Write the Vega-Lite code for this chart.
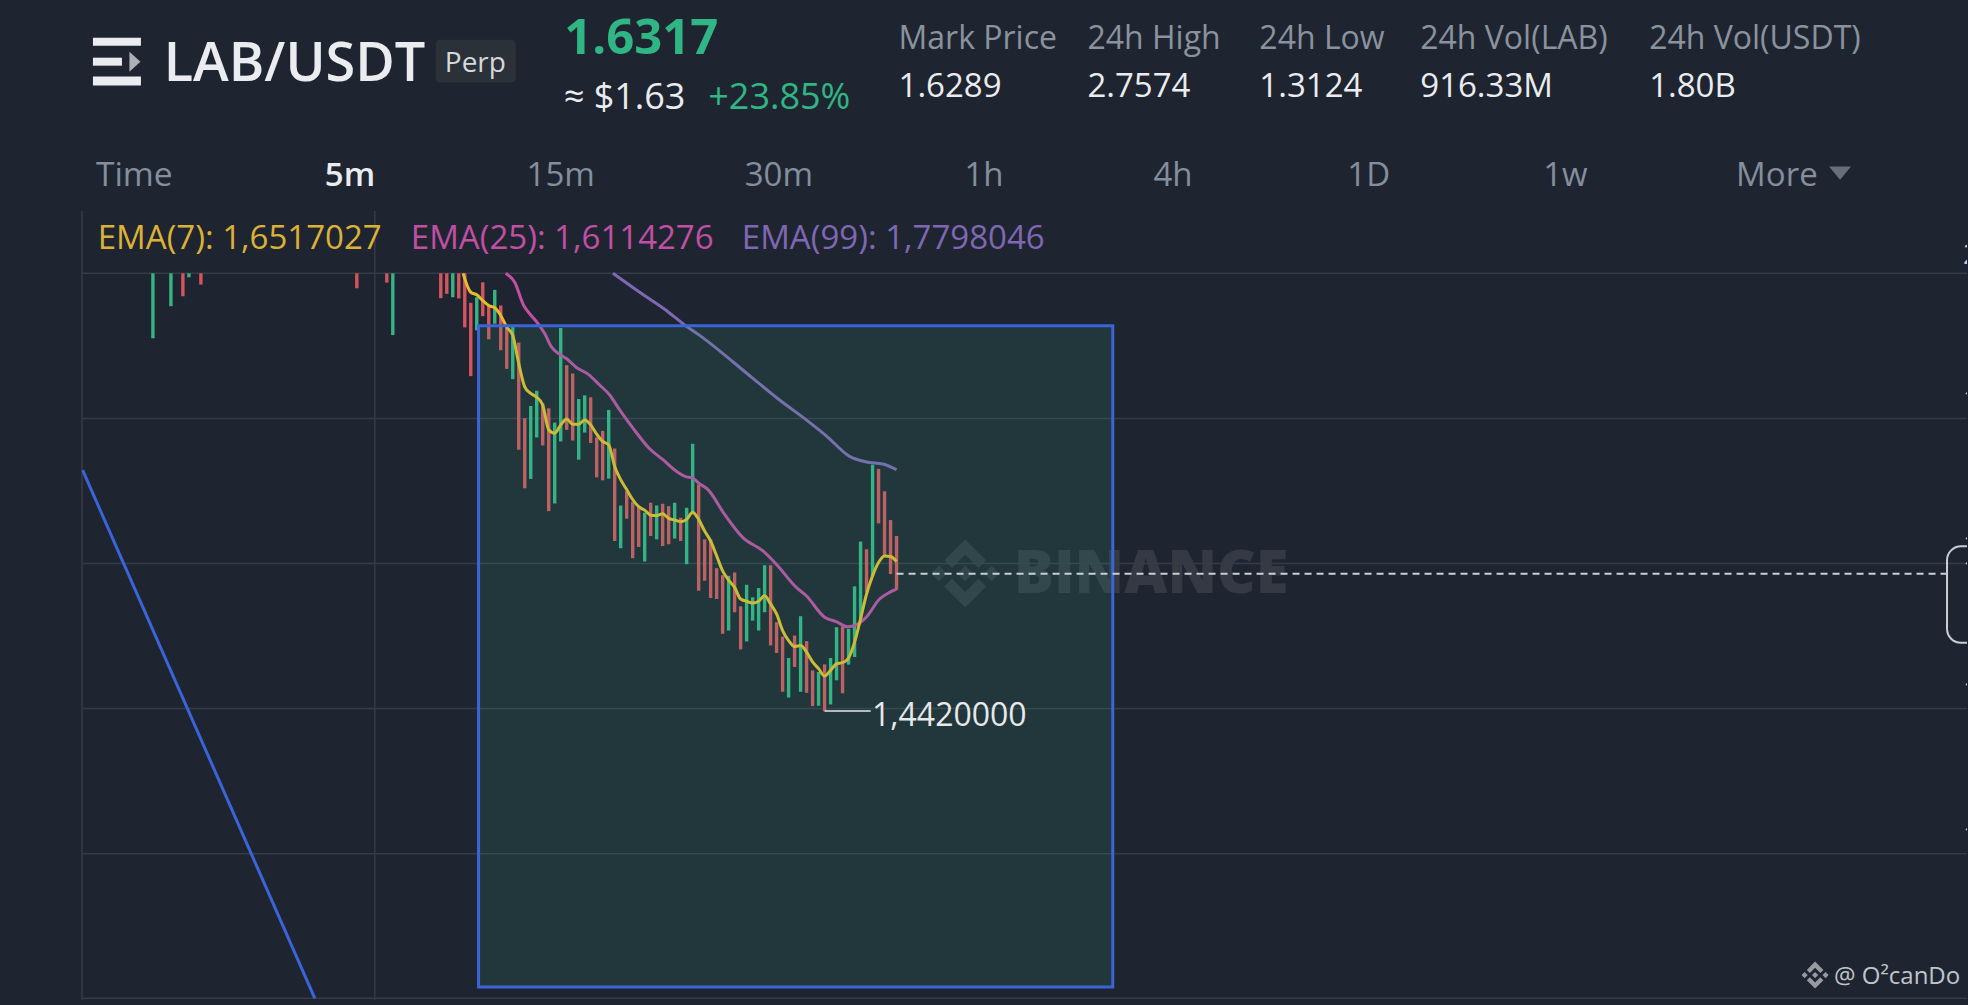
{
"$schema":"https://vega.github.io/schema/vega-lite/v6.json",
"width":1968,"height":1005,"padding":0,
"autosize":{"type":"fit","contains":"padding"},
"background":"#1f2530",
"config":{"view":{"stroke":null},"axis":{"disable":true},"text":{"font":"Open Sans","align":"left","baseline":"alphabetic"}},
"datasets":{
"grid":[{"price":2.0465,"from":-59.83,"to":254.5},{"price":1.846,"from":-59.83,"to":254.5},{"price":1.6459,"from":-59.83,"to":254.5},{"price":1.4458,"from":-59.83,"to":254.5},{"price":1.2454,"from":-59.83,"to":254.5},{"price":1.0456,"from":-59.83,"to":254.5}],
"vgrid":[{"candle":-59.83,"top":2.1326,"bottom":1.0434},{"candle":-11,"top":2.1326,"bottom":1.0434}],
"candles":[
{"candle":-48,"high":2.0465,"low":1.9568,"dir":"up"},{"candle":-45,"high":2.0465,"low":2.0012,"dir":"up"},{"candle":-43,"high":2.0465,"low":2.0149,"dir":"down"},{"candle":-42,"high":2.0465,"low":2.041,"dir":"up"},{"candle":-40,"high":2.0465,"low":2.031,"dir":"down"},{"candle":-14,"high":2.0465,"low":2.0259,"dir":"down"},{"candle":-9,"high":2.0465,"low":2.0337,"dir":"down"},{"candle":-8,"high":2.0465,"low":1.9613,"dir":"up"},
{"candle":0,"high":2.0465,"low":2.0122,"dir":"down"},{"candle":1,"high":2.0465,"low":2.0182,"dir":"down"},{"candle":2,"high":2.0465,"low":2.0135,"dir":"up"},{"candle":3,"high":2.0465,"low":2.0118,"dir":"down"},{"candle":4,"high":2.0465,"low":1.9719,"dir":"down"},
{"candle":5,"high":2.0058,"low":1.9046,"dir":"down"},{"candle":6,"high":2.0135,"low":1.9678,"dir":"up"},{"candle":7,"high":2.0341,"low":1.9874,"dir":"down"},{"candle":8,"high":2.0021,"low":1.9554,"dir":"down"},{"candle":9,"high":2.0237,"low":1.977,"dir":"up"},{"candle":10,"high":2.0021,"low":1.9403,"dir":"down"},{"candle":11,"high":1.9723,"low":1.9146,"dir":"down"},{"candle":12,"high":1.9723,"low":1.9005,"dir":"up"},{"candle":13,"high":1.9509,"low":1.803,"dir":"down"},{"candle":14,"high":1.8465,"low":1.7498,"dir":"down"},{"candle":15,"high":1.8634,"low":1.7627,"dir":"up"},{"candle":16,"high":1.8844,"low":1.8199,"dir":"up"},{"candle":17,"high":1.8671,"low":1.8089,"dir":"down"},{"candle":18,"high":1.8602,"low":1.7182,"dir":"down"},{"candle":19,"high":1.8405,"low":1.7288,"dir":"up"},{"candle":20,"high":1.971,"low":1.8144,"dir":"up"},{"candle":21,"high":1.9197,"low":1.8304,"dir":"down"},{"candle":22,"high":1.9083,"low":1.8157,"dir":"down"},{"candle":23,"high":1.873,"low":1.7892,"dir":"up"},{"candle":24,"high":1.8781,"low":1.8267,"dir":"up"},{"candle":25,"high":1.8754,"low":1.8122,"dir":"down"},{"candle":26,"high":1.8199,"low":1.7649,"dir":"down"},{"candle":27,"high":1.8291,"low":1.7608,"dir":"down"},{"candle":28,"high":1.8579,"low":1.7631,"dir":"up"},{"candle":29,"high":1.8047,"low":1.677,"dir":"down"},{"candle":30,"high":1.726,"low":1.667,"dir":"up"},{"candle":31,"high":1.7457,"low":1.7078,"dir":"down"},{"candle":32,"high":1.7311,"low":1.6532,"dir":"down"},{"candle":33,"high":1.7243,"low":1.6688,"dir":"down"},{"candle":34,"high":1.716,"low":1.6487,"dir":"up"},{"candle":35,"high":1.7298,"low":1.6839,"dir":"down"},{"candle":36,"high":1.726,"low":1.6793,"dir":"up"},{"candle":37,"high":1.7284,"low":1.6701,"dir":"down"},{"candle":38,"high":1.7251,"low":1.6725,"dir":"down"},{"candle":39,"high":1.7298,"low":1.6803,"dir":"up"},{"candle":40,"high":1.7091,"low":1.677,"dir":"down"},{"candle":41,"high":1.7229,"low":1.645,"dir":"up"},{"candle":42,"high":1.8112,"low":1.7137,"dir":"up"},{"candle":43,"high":1.7549,"low":1.6083,"dir":"down"},{"candle":44,"high":1.6793,"low":1.6221,"dir":"down"},{"candle":45,"high":1.6793,"low":1.5983,"dir":"down"},{"candle":46,"high":1.6395,"low":1.5969,"dir":"down"},{"candle":47,"high":1.6299,"low":1.5488,"dir":"down"},{"candle":48,"high":1.6289,"low":1.5534,"dir":"up"},{"candle":49,"high":1.6336,"low":1.5787,"dir":"down"},{"candle":50,"high":1.5869,"low":1.5273,"dir":"down"},{"candle":51,"high":1.6166,"low":1.5383,"dir":"up"},{"candle":52,"high":1.5993,"low":1.5671,"dir":"up"},{"candle":53,"high":1.612,"low":1.5534,"dir":"up"},{"candle":54,"high":1.6436,"low":1.5787,"dir":"up"},{"candle":55,"high":1.6436,"low":1.5328,"dir":"down"},{"candle":56,"high":1.5649,"low":1.5223,"dir":"down"},{"candle":57,"high":1.5451,"low":1.4688,"dir":"down"},{"candle":58,"high":1.5155,"low":1.4609,"dir":"up"},{"candle":59,"high":1.5465,"low":1.5031,"dir":"down"},{"candle":60,"high":1.5732,"low":1.4688,"dir":"up"},{"candle":61,"high":1.5388,"low":1.4674,"dir":"down"},{"candle":62,"high":1.4984,"low":1.449,"dir":"down"},{"candle":63,"high":1.4962,"low":1.4495,"dir":"up"},{"candle":64,"high":1.5067,"low":1.442,"dir":"down"},{"candle":65,"high":1.5155,"low":1.4513,"dir":"up"},{"candle":66,"high":1.558,"low":1.4847,"dir":"up"},{"candle":67,"high":1.5589,"low":1.4668,"dir":"down"},{"candle":68,"high":1.5557,"low":1.5063,"dir":"up"},{"candle":69,"high":1.6144,"low":1.5168,"dir":"up"},{"candle":70,"high":1.6762,"low":1.5694,"dir":"up"},{"candle":71,"high":1.6656,"low":1.6061,"dir":"down"},{"candle":72,"high":1.7824,"low":1.6289,"dir":"up"},{"candle":73,"high":1.7765,"low":1.7013,"dir":"down"},{"candle":74,"high":1.7457,"low":1.6564,"dir":"down"},{"candle":75,"high":1.7059,"low":1.6313,"dir":"down"},{"candle":76,"high":1.6839,"low":1.6097,"dir":"down"}],
"ema7":[{"candle":3.72,"price":2.0465},{"candle":5,"price":2.0204},{"candle":6,"price":2.0168},{"candle":7,"price":2.009},{"candle":8,"price":2.0021},{"candle":9,"price":1.999},{"candle":10,"price":1.9884},{"candle":11,"price":1.9723},{"candle":12,"price":1.9609},{"candle":13,"price":1.9221},{"candle":14,"price":1.8899},{"candle":15,"price":1.8808},{"candle":16,"price":1.8754},{"candle":17,"price":1.8648},{"candle":18,"price":1.8304},{"candle":19,"price":1.8259},{"candle":20,"price":1.8373},{"candle":21,"price":1.8455},{"candle":22,"price":1.8383},{"candle":23,"price":1.8383},{"candle":24,"price":1.8442},{"candle":25,"price":1.8373},{"candle":26,"price":1.8245},{"candle":27,"price":1.8144},{"candle":28,"price":1.8098},{"candle":29,"price":1.78},{"candle":30,"price":1.7618},{"candle":31,"price":1.748},{"candle":32,"price":1.7343},{"candle":33,"price":1.7243},{"candle":34,"price":1.7196},{"candle":35,"price":1.7127},{"candle":36,"price":1.7123},{"candle":37,"price":1.7146},{"candle":38,"price":1.7082},{"candle":39,"price":1.7059},{"candle":40,"price":1.7037},{"candle":41,"price":1.7068},{"candle":42,"price":1.7168},{"candle":43,"price":1.7068},{"candle":44,"price":1.6907},{"candle":45,"price":1.677},{"candle":46,"price":1.6564},{"candle":47,"price":1.6358},{"candle":48,"price":1.623},{"candle":49,"price":1.613},{"candle":50,"price":1.5969},{"candle":51,"price":1.5938},{"candle":52,"price":1.5914},{"candle":53,"price":1.5938},{"candle":54,"price":1.6014},{"candle":55,"price":1.5901},{"candle":56,"price":1.5763},{"candle":57,"price":1.5534},{"candle":58,"price":1.5396},{"candle":59,"price":1.5314},{"candle":60,"price":1.5328},{"candle":61,"price":1.5237},{"candle":62,"price":1.51},{"candle":63,"price":1.5008},{"candle":64,"price":1.4907},{"candle":65,"price":1.4984},{"candle":66,"price":1.5076},{"candle":67,"price":1.509},{"candle":68,"price":1.5155},{"candle":69,"price":1.5374},{"candle":70,"price":1.5694},{"candle":71,"price":1.6038},{"candle":72,"price":1.6289},{"candle":73,"price":1.6473},{"candle":74,"price":1.6564},{"candle":75,"price":1.6556},{"candle":76,"price":1.6487}],
"ema25":[{"candle":10.83,"price":2.0465},{"candle":12.33,"price":2.0341},{"candle":13.83,"price":2.0021},{"candle":14.83,"price":1.9907},{"candle":16.22,"price":1.977},{"candle":17.33,"price":1.9633},{"candle":18.45,"price":1.9449},{"candle":19.83,"price":1.9348},{"candle":20.95,"price":1.9289},{"candle":22.62,"price":1.9166},{"candle":24.55,"price":1.9074},{"candle":26.5,"price":1.8923},{"candle":28.17,"price":1.8785},{"candle":29.83,"price":1.8579},{"candle":32.05,"price":1.8328},{"candle":34.83,"price":1.8043},{"candle":37.05,"price":1.7892},{"candle":39.28,"price":1.7732},{"candle":40.95,"price":1.7655},{"candle":41.83,"price":1.7645},{"candle":43.17,"price":1.7559},{"candle":44.55,"price":1.748},{"candle":47.33,"price":1.7137},{"candle":50.38,"price":1.6817},{"candle":53.72,"price":1.6633},{"candle":55.95,"price":1.645},{"candle":59.28,"price":1.613},{"candle":60.95,"price":1.6014},{"candle":64,"price":1.5718},{"candle":65.95,"price":1.5657},{"candle":67.88,"price":1.5585},{"candle":69.28,"price":1.5612},{"candle":70.95,"price":1.5718},{"candle":73.17,"price":1.5969},{"candle":74.83,"price":1.6061},{"candle":76,"price":1.6106}],
"ema99":[{"candle":28.72,"price":2.0465},{"candle":33.17,"price":2.0204},{"candle":37.62,"price":1.9953},{"candle":40.38,"price":1.977},{"candle":43.17,"price":1.9609},{"candle":52,"price":1.9019},{"candle":56.5,"price":1.8716},{"candle":60.95,"price":1.8442},{"candle":64.28,"price":1.8222},{"candle":68.17,"price":1.7938},{"candle":70.95,"price":1.7861},{"candle":73.72,"price":1.7833},{"candle":76,"price":1.7755}],
"zone":[{"left":6.3,"right":112.05,"upper":1.9743,"lower":1.0612}],
"trend":[{"candle":-59.72,"price":1.7747},{"candle":-21,"price":1.0456}],
"last":[{"price":1.6317,"from":76,"to":251.17}],
"lowMark":[{"price":1.4424,"from":64,"to":71.7}],
"lowLabel":[{"candle":71.9,"price":1.4361,"label":"1,4420000"}],
"priceAxis":[{"candle":253.83,"price":2.0708,"label":"2.0500"},{"candle":253.83,"price":1.8703,"label":"1.8500"},{"candle":253.83,"price":1.6697,"label":"1.6500"},{"candle":253.83,"price":1.6354,"label":"1.6317"},{"candle":253.83,"price":1.4692,"label":"1.4500"},{"candle":253.83,"price":1.2686,"label":"1.2500"}],
"one":[{}]
},
"layer":[
{"data":{"name":"one"},"mark":{"type":"point","filled":true,"color":"#ffffff","opacity":0.09,"size":4624,"strokeWidth":0,"shape":"M-.388,-.159L0,-.547L.389,-.159L.615,-.385L0,-1L-.614,-.385ZM-1,0L-.774,-.226L-.548,0L-.774,.226ZM-.388,.159L0,.547L.389,.159L.615,.385L0,1L-.614,.385ZM.548,0L.774,-.226L1,0L.774,.226ZM.229,0L0,-.229L-.229,0L0,.229Z"},"encoding":{"x":{"datum":87.45},"y":{"datum":1.6322}}},
{"data":{"values":[{"label":"BINANCE"}]},"mark":{"type":"text","fontSize":59.5,"fontWeight":800,"color":"#ffffff","opacity":0.09},"encoding":{"x":{"datum":95.55},"y":{"datum":1.6052},"text":{"field":"label"}}},
{
"encoding":{
"x":{"field":"candle","type":"quantitative","scale":{"domain":[-73.5,254.5],"nice":false,"zero":false}},
"y":{"field":"price","type":"quantitative","scale":{"domain":[1.04335,2.42385],"nice":false,"zero":false}}
},
"layer":[
{"data":{"name":"grid"},"mark":{"type":"rule","color":"#353c47","strokeWidth":1.5},"encoding":{"x":{"field":"from","type":"quantitative"},"x2":{"field":"to"},"y":{"field":"price","type":"quantitative"}}},
{"data":{"name":"vgrid"},"mark":{"type":"rule","color":"#353c47","strokeWidth":1.5},"encoding":{"y":{"field":"top","type":"quantitative"},"y2":{"field":"bottom"}}},
{"data":{"name":"candles"},"mark":{"type":"rule","strokeWidth":3.4},"encoding":{"y":{"field":"high","type":"quantitative"},"y2":{"field":"low"},"color":{"field":"dir","type":"nominal","legend":null,"scale":{"domain":["up","down"],"range":["#35b585","#d2555f"]}}}},
{"data":{"name":"ema25"},"mark":{"type":"line","color":"#c04fa5","strokeWidth":3,"interpolate":"monotone"}},
{"data":{"name":"ema99"},"mark":{"type":"line","color":"#7f68b3","strokeWidth":3,"interpolate":"monotone"}},
{"data":{"name":"ema7"},"mark":{"type":"line","color":"#e3bd2c","strokeWidth":3,"interpolate":"monotone"}},
{"data":{"name":"zone"},"mark":{"type":"rect","fill":"#2fb589","fillOpacity":0.13,"stroke":"#3a64d8","strokeOpacity":1,"strokeWidth":3},"encoding":{"x":{"field":"left","type":"quantitative"},"x2":{"field":"right"},"y":{"field":"upper","type":"quantitative"},"y2":{"field":"lower"}}},
{"data":{"name":"trend"},"mark":{"type":"line","color":"#3a64d8","strokeWidth":3}},
{"data":{"name":"last"},"mark":{"type":"rule","color":"#c8ced4","strokeWidth":2,"strokeDash":[7,5]},"encoding":{"x":{"field":"from","type":"quantitative"},"x2":{"field":"to"},"y":{"field":"price","type":"quantitative"}}},
{"data":{"name":"lowMark"},"mark":{"type":"rule","color":"#e6e8ea","strokeWidth":1.5},"encoding":{"x":{"field":"from","type":"quantitative"},"x2":{"field":"to"},"y":{"field":"price","type":"quantitative"}}},
{"data":{"name":"lowLabel"},"mark":{"type":"text","fontSize":32,"color":"#e6e8ea","baseline":"middle"},"encoding":{"text":{"field":"label"}}},
{"data":{"name":"priceAxis"},"mark":{"type":"text","fontSize":28,"color":"#c8ccd2","baseline":"middle","clip":true},"encoding":{"text":{"field":"label"}}}
]
},
{"data":{"name":"one"},"mark":{"type":"rect","stroke":"#c8ced4","fillOpacity":0,"strokeWidth":2,"cornerRadius":14,"clip":true},"encoding":{"x":{"datum":251.17},"x2":{"datum":262},"y":{"datum":1.6697},"y2":{"datum":1.5365}}},

{"data":{"name":"one"},"mark":{"type":"rect","color":"#eaecef"},"encoding":{"x":{"datum":-58},"x2":{"datum":-50},"y":{"datum":2.3716},"y2":{"datum":2.3607}}},
{"data":{"name":"one"},"mark":{"type":"rect","color":"#eaecef"},"encoding":{"x":{"datum":-58},"x2":{"datum":-53.17},"y":{"datum":2.3442},"y2":{"datum":2.3332}}},
{"data":{"name":"one"},"mark":{"type":"rect","color":"#eaecef"},"encoding":{"x":{"datum":-58},"x2":{"datum":-50},"y":{"datum":2.3181},"y2":{"datum":2.3057}}},
{"data":{"name":"one"},"mark":{"type":"point","filled":true,"color":"#eaecef","size":400,"strokeWidth":0,"shape":"M-.55,-1L.55,0L-.55,1Z"},"encoding":{"x":{"datum":-51},"y":{"datum":2.3387}}},
{"data":{"values":[{"label":"LAB/USDT"}]},"mark":{"type":"text","fontSize":54,"fontWeight":600,"color":"#eaecef"},"encoding":{"x":{"datum":-46.2},"y":{"datum":2.3126},"text":{"field":"label"}}},
{"data":{"name":"one"},"mark":{"type":"rect","color":"#2b3139","cornerRadius":4},"encoding":{"x":{"datum":-0.83},"x2":{"datum":12.5},"y":{"datum":2.3689},"y2":{"datum":2.3098}}},
{"data":{"values":[{"label":"Perp"}]},"mark":{"type":"text","fontSize":28,"color":"#d5d8dc"},"encoding":{"x":{"datum":0.67},"y":{"datum":2.3249},"text":{"field":"label"}}},
{"data":{"values":[{"label":"1.6317"}]},"mark":{"type":"text","fontSize":49,"fontWeight":700,"color":"#30b584"},"encoding":{"x":{"datum":20.6},"y":{"datum":2.3497},"text":{"field":"label"}}},
{"data":{"values":[{"label":"≈ $1.63"}]},"mark":{"type":"text","fontSize":36,"fontWeight":500,"color":"#eaecef"},"encoding":{"x":{"datum":20.5},"y":{"datum":2.2727},"text":{"field":"label"}}},
{"data":{"values":[{"label":"+23.85%"}]},"mark":{"type":"text","fontSize":36,"color":"#30b584"},"encoding":{"x":{"datum":44.6},"y":{"datum":2.2727},"text":{"field":"label"}}},

{"data":{"values":[{"label":"Mark Price"}]},"mark":{"type":"text","fontSize":32,"color":"#8a929e"},"encoding":{"x":{"datum":76.33},"y":{"datum":2.3556},"text":{"field":"label"}}},
{"data":{"values":[{"label":"24h High"}]},"mark":{"type":"text","fontSize":32,"color":"#8a929e"},"encoding":{"x":{"datum":107.83},"y":{"datum":2.3556},"text":{"field":"label"}}},
{"data":{"values":[{"label":"24h Low"}]},"mark":{"type":"text","fontSize":32,"color":"#8a929e"},"encoding":{"x":{"datum":136.5},"y":{"datum":2.3556},"text":{"field":"label"}}},
{"data":{"values":[{"label":"24h Vol(LAB)"}]},"mark":{"type":"text","fontSize":32,"color":"#8a929e"},"encoding":{"x":{"datum":163.33},"y":{"datum":2.3556},"text":{"field":"label"}}},
{"data":{"values":[{"label":"24h Vol(USDT)"}]},"mark":{"type":"text","fontSize":32,"color":"#8a929e"},"encoding":{"x":{"datum":201.5},"y":{"datum":2.3556},"text":{"field":"label"}}},
{"data":{"values":[{"label":"1.6289"}]},"mark":{"type":"text","fontSize":33,"fontWeight":500,"color":"#eaecef"},"encoding":{"x":{"datum":76.33},"y":{"datum":2.2906},"text":{"field":"label"}}},
{"data":{"values":[{"label":"2.7574"}]},"mark":{"type":"text","fontSize":33,"fontWeight":500,"color":"#eaecef"},"encoding":{"x":{"datum":107.83},"y":{"datum":2.2906},"text":{"field":"label"}}},
{"data":{"values":[{"label":"1.3124"}]},"mark":{"type":"text","fontSize":33,"fontWeight":500,"color":"#eaecef"},"encoding":{"x":{"datum":136.5},"y":{"datum":2.2906},"text":{"field":"label"}}},
{"data":{"values":[{"label":"916.33M"}]},"mark":{"type":"text","fontSize":33,"fontWeight":500,"color":"#eaecef"},"encoding":{"x":{"datum":163.33},"y":{"datum":2.2906},"text":{"field":"label"}}},
{"data":{"values":[{"label":"1.80B"}]},"mark":{"type":"text","fontSize":33,"fontWeight":500,"color":"#eaecef"},"encoding":{"x":{"datum":201.5},"y":{"datum":2.2906},"text":{"field":"label"}}},

{"data":{"values":[{"label":"Time"}]},"mark":{"type":"text","fontSize":33.5,"color":"#848e9c"},"encoding":{"x":{"datum":-57.5},"y":{"datum":2.167},"text":{"field":"label"}}},
{"data":{"values":[{"label":"5m"}]},"mark":{"type":"text","fontSize":33,"fontWeight":600,"color":"#eaecef"},"encoding":{"x":{"datum":-19.33},"y":{"datum":2.167},"text":{"field":"label"}}},
{"data":{"values":[{"label":"15m"}]},"mark":{"type":"text","fontSize":33,"color":"#848e9c"},"encoding":{"x":{"datum":14.3},"y":{"datum":2.167},"text":{"field":"label"}}},
{"data":{"values":[{"label":"30m"}]},"mark":{"type":"text","fontSize":33,"color":"#848e9c"},"encoding":{"x":{"datum":50.67},"y":{"datum":2.167},"text":{"field":"label"}}},
{"data":{"values":[{"label":"1h"}]},"mark":{"type":"text","fontSize":33,"color":"#848e9c"},"encoding":{"x":{"datum":87.33},"y":{"datum":2.167},"text":{"field":"label"}}},
{"data":{"values":[{"label":"4h"}]},"mark":{"type":"text","fontSize":33,"color":"#848e9c"},"encoding":{"x":{"datum":118.83},"y":{"datum":2.167},"text":{"field":"label"}}},
{"data":{"values":[{"label":"1D"}]},"mark":{"type":"text","fontSize":33,"color":"#848e9c"},"encoding":{"x":{"datum":151.17},"y":{"datum":2.167},"text":{"field":"label"}}},
{"data":{"values":[{"label":"1w"}]},"mark":{"type":"text","fontSize":33,"color":"#848e9c"},"encoding":{"x":{"datum":183.83},"y":{"datum":2.167},"text":{"field":"label"}}},
{"data":{"values":[{"label":"More"}]},"mark":{"type":"text","fontSize":33,"color":"#848e9c"},"encoding":{"x":{"datum":216},"y":{"datum":2.167},"text":{"field":"label"}}},
{"data":{"name":"one"},"mark":{"type":"point","filled":true,"color":"#848e9c","size":484,"strokeWidth":0,"shape":"M-1,-.6L1,-.6L0,.6Z"},"encoding":{"x":{"datum":233.33},"y":{"datum":2.1848}}},

{"data":{"values":[{"label":"EMA(7): 1,6517027"}]},"mark":{"type":"text","fontSize":33,"color":"#dcb236"},"encoding":{"x":{"datum":-57.2},"y":{"datum":2.0804},"text":{"field":"label"}}},
{"data":{"values":[{"label":"EMA(25): 1,6114276"}]},"mark":{"type":"text","fontSize":33,"color":"#c04fa5"},"encoding":{"x":{"datum":-5},"y":{"datum":2.0804},"text":{"field":"label"}}},
{"data":{"values":[{"label":"EMA(99): 1,7798046"}]},"mark":{"type":"text","fontSize":33,"color":"#7f68b3"},"encoding":{"x":{"datum":50.2},"y":{"datum":2.0804},"text":{"field":"label"}}},

{"data":{"name":"one"},"mark":{"type":"point","filled":true,"color":"#c8cdd2","size":729,"strokeWidth":0,"shape":"M-.388,-.159L0,-.547L.389,-.159L.615,-.385L0,-1L-.614,-.385ZM-1,0L-.774,-.226L-.548,0L-.774,.226ZM-.388,.159L0,.547L.389,.159L.615,.385L0,1L-.614,.385ZM.548,0L.774,-.226L1,0L.774,.226ZM.229,0L0,-.229L-.229,0L0,.229Z"},"encoding":{"x":{"datum":229.17},"y":{"datum":1.0777}}},
{"data":{"values":[{"label":"@ O²canDo"}]},"mark":{"type":"text","fontSize":24,"color":"#c0c5ca"},"encoding":{"x":{"datum":232.33},"y":{"datum":1.0653},"text":{"field":"label"}}}
]
}
